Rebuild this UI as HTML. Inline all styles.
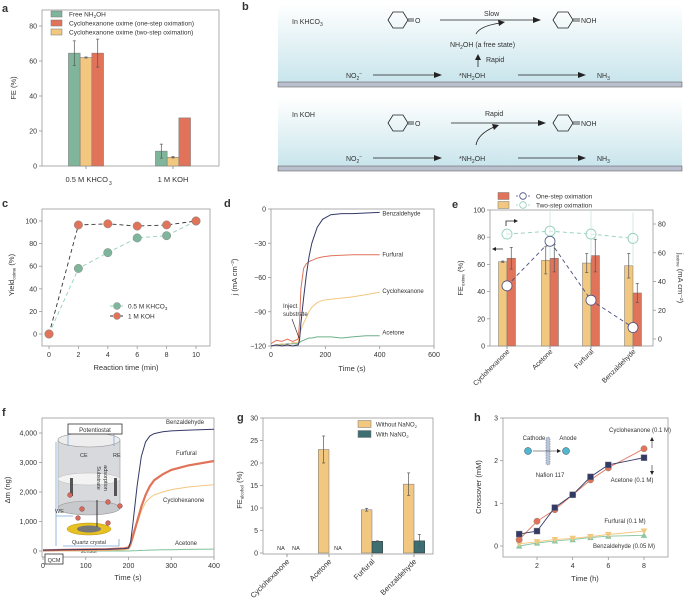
<!DOCTYPE html>
<html><head><meta charset="utf-8"><style>
html,body{margin:0;padding:0;background:#fff}
svg{display:block;font-family:"Liberation Sans",sans-serif}
text{fill:#333}
</style></head><body>
<svg id="s" width="685" height="606" viewBox="0 0 685 606">
<defs>
<linearGradient id="bg" x1="0" y1="0" x2="0" y2="1"><stop offset="0" stop-color="#fff"/><stop offset="1" stop-color="#c9e5ec"/></linearGradient>
</defs>
<g font-weight="bold" font-size="11">
<text x="2" y="12">a</text><text x="242" y="10">b</text><text x="2" y="207">c</text><text x="224" y="207">d</text><text x="452" y="208">e</text><text x="2" y="416">f</text><text x="237" y="421">g</text><text x="474" y="421">h</text>
</g>
<!-- panel b -->
<g font-size="7">
<rect x="278" y="4" width="404" height="78" fill="url(#bg)"/>
<rect x="278" y="82" width="404" height="5" fill="#b9bfcc" stroke="#666" stroke-width="0.6"/>
<rect x="278" y="98" width="404" height="68" fill="url(#bg)"/>
<rect x="278" y="166" width="404" height="5" fill="#b9bfcc" stroke="#666" stroke-width="0.6"/>
<g stroke="#222" stroke-width="0.8" fill="none">
<polygon points="388,20 393,12 403,12 408,20 403,28 393,28"/><line x1="408" y1="19" x2="414" y2="19"/><line x1="408" y1="21" x2="414" y2="21"/>
<polygon points="553,20 558,12 568,12 573,20 568,28 558,28"/><line x1="573" y1="19" x2="580" y2="19"/><line x1="573" y1="21" x2="580" y2="21"/>
<polygon points="388,123 393,115 403,115 408,123 403,131 393,131"/><line x1="408" y1="122" x2="414" y2="122"/><line x1="408" y1="124" x2="414" y2="124"/>
<polygon points="553,123 558,115 568,115 573,123 568,131 558,131"/><line x1="573" y1="122" x2="580" y2="122"/><line x1="573" y1="124" x2="580" y2="124"/>
<line x1="440" y1="20" x2="535" y2="20"/><line x1="451" y1="123" x2="540" y2="123"/>
<line x1="373" y1="75" x2="436" y2="75"/><line x1="518" y1="75" x2="580" y2="75"/>
<line x1="373" y1="158" x2="436" y2="158"/><line x1="518" y1="158" x2="580" y2="158"/>
<path d="M476,34 Q480,26 500,23"/><path d="M476,145 Q478,134 494,127"/><line x1="478" y1="67" x2="478" y2="58"/>
</g>
<g fill="#222">
<polygon points="541,20 533,17 533,23"/><polygon points="546,123 538,120 538,126"/>
<polygon points="442,75 434,72 434,78"/><polygon points="586,75 578,72 578,78"/>
<polygon points="442,158 434,155 434,161"/><polygon points="586,158 578,155 578,161"/>
<polygon points="505,22 498,20 499,26"/><polygon points="499,125 492,124 494,130"/><polygon points="478,54 475,60 481,60"/>
</g>
<text x="292" y="24">In KHCO<tspan font-size="5" dy="2">3</tspan></text>
<text x="292" y="117">In KOH</text>
<text x="415" y="23">O</text><text x="415" y="126">O</text>
<text x="581" y="23">NOH</text><text x="581" y="126">NOH</text>
<text x="484" y="16">Slow</text><text x="485" y="116">Rapid</text>
<text x="450" y="47">NH<tspan font-size="5" dy="2">2</tspan><tspan dy="-2">OH (a free state)</tspan></text>
<text x="486" y="62">Rapid</text>
<text x="346" y="78">NO<tspan font-size="5" dy="2">2</tspan><tspan font-size="5" dy="-5">−</tspan></text>
<text x="346" y="161">NO<tspan font-size="5" dy="2">2</tspan><tspan font-size="5" dy="-5">−</tspan></text>
<text x="459" y="78">*NH<tspan font-size="5" dy="2">2</tspan><tspan dy="-2">OH</tspan></text>
<text x="459" y="161">*NH<tspan font-size="5" dy="2">2</tspan><tspan dy="-2">OH</tspan></text>
<text x="597" y="78">NH<tspan font-size="5" dy="2">3</tspan></text>
<text x="597" y="161">NH<tspan font-size="5" dy="2">3</tspan></text>
</g>
<g id="root"></g>
</svg>
<script>
// ---------- data ----------
const aGroups = ["0.5 M KHCO3", "1 M KOH"];
const aFreeNH2OH = [64.5, 8.5];
const aFreeErr = [7, 4];
const aOneStep = [64.5, 27.5];
const aOneErr = [8, 0];
const aTwoStep = [62, 5];
const aTwoErr = [0.3, 0.4];
const aTicks = [0, 20, 40, 60, 80];

const cTime = [0, 2, 4, 6, 8, 10];
const cKHCO3 = [0, 58, 72, 85, 87, 100];
const cKOH = [0, 96.5, 97.5, 95.5, 96.5, 100];
const cXTicks = [0, 2, 4, 6, 8, 10];
const cYTicks = [0, 20, 40, 60, 80, 100];

const dTime = [0, 20, 40, 60, 80, 100, 105, 110, 120, 130, 140, 150, 170, 190, 220, 260, 300, 350, 400];
const dBenz = [-120, -119, -120, -119, -120, -119, -115, -100, -78, -58, -42, -30, -16, -9, -5, -4, -4, -3.5, -3];
const dFurf = [-118, -115, -116, -114, -116, -114, -100, -70, -52, -48, -46, -45, -43, -42, -41, -40.5, -40, -40, -40];
const dCyclo = [-120, -119, -118, -119, -117, -117, -112, -106, -100, -95, -90, -86, -82, -80, -79, -78, -77, -75, -73];
const dAcet = [-120, -119, -119, -118, -118, -118, -117, -116, -115, -114, -113, -113, -112, -112, -112, -113, -112, -111, -111];
const dXTicks = [0, 200, 400, 600];
const dYTicks = [0, -30, -60, -90, -120];

const eCats = ["Cyclohexanone", "Acetone", "Furfural", "Benzaldehyde"];
const eTwoFE = [62, 63, 61, 59];
const eTwoFEErr = [0.5, 10, 7, 9];
const eOneFE = [64.5, 64.5, 66.5, 39];
const eOneFEErr = [8, 10, 12, 7];
const eOneJ = [37, 68, 27, 8];
const eTwoJ = [73, 75, 73, 70];
const eTwoJErr = [3, 18, 17, 18];
const eLeftTicks = [0, 20, 40, 60, 80, 100];
const eRightTicks = [0, 20, 40, 60, 80];

const fTime = [0, 50, 100, 150, 190, 200, 205, 210, 220, 230, 240, 250, 260, 280, 300, 340, 400];
const fBenz = [30, 40, 50, 60, 80, 100, 300, 900, 2200, 3200, 3700, 3900, 3980, 4040, 4070, 4100, 4130];
const fFurf = [20, 40, 50, 60, 90, 120, 250, 500, 1000, 1500, 1900, 2200, 2400, 2600, 2750, 2900, 3050];
const fCyclo = [0, 0, 10, 20, 40, 60, 150, 400, 900, 1350, 1650, 1800, 1900, 2000, 2080, 2170, 2250];
const fAcet = [0, 0, 0, 0, 0, 0, 5, 10, 15, 20, 25, 30, 35, 40, 45, 55, 65];
const fYTicks = [0, 1000, 2000, 3000, 4000];
const fYLabels = ["0", "1,000", "2,000", "3,000", "4,000"];
const fXTicks = [0, 100, 200, 300, 400];

const gCats = ["Cyclohexanone", "Acetone", "Furfural", "Benzaldehyde"];
const gWithout = [null, 23, 9.6, 15.3];
const gWithoutErr = [0, 3, 0.3, 2.5];
const gWith = [null, null, 2.6, 2.7];
const gWithErr = [0, 0, 0.1, 1.4];
const gTicks = [0, 5, 10, 15, 20, 25, 30];

const hTime = [1, 2, 3, 4, 5, 6, 8];
const hAcet = [0.28, 0.35, 0.9, 1.2, 1.62, 1.9, 2.07];
const hCyclo = [0.15, 0.58, 0.85, 1.2, 1.55, 1.83, 2.28];
const hFurf = [0.05, 0.1, 0.15, 0.18, 0.22, 0.27, 0.35];
const hBenz = [0.0, 0.07, 0.12, 0.15, 0.2, 0.23, 0.25];
const hXTicks = [2, 4, 6, 8];
const hYTicks = [0, 1, 2, 3];

// ---------- helpers ----------
const NS = "http://www.w3.org/2000/svg";
const root = document.getElementById("root");
function mk(tag, at, parent) {
  const e = document.createElementNS(NS, tag);
  for (const k in at) e.setAttribute(k, at[k]);
  (parent || root).appendChild(e);
  return e;
}
function txt(x, y, s, size, anchor, parent, extra) {
  const t = mk("text", Object.assign({x: x, y: y, "font-size": size || 7, "text-anchor": anchor || "start"}, extra || {}), parent);
  t.textContent = s;
  return t;
}
function lin(d0, d1, r0, r1) { return v => r0 + (v - d0) / (d1 - d0) * (r1 - r0); }
function frame(x0, y0, x1, y1, name) {
  const r = mk("rect", {x: x0, y: y0, width: x1 - x0, height: y1 - y0, fill: "none", stroke: "#999", "stroke-width": 0.8});
  
  
}
function yAxis(ticks, sy, x, labels, name, side) {
  const g = mk("g", {});
  
  
  ticks.forEach((v, i) => {
    const y = sy(v);
    const dir = side === "r" ? 1 : -1;
    mk("line", {x1: x, x2: x + dir * 3, y1: y, y2: y, stroke: "#999", "stroke-width": 0.8}, g);
    txt(x + dir * 5, y + 2.5, labels ? labels[i] : String(v).replace("-", "−"), 7, side === "r" ? "start" : "end", g);
  });
}
function xAxis(ticks, sx, y, name) {
  const g = mk("g", {});
  
  
  ticks.forEach(v => {
    const x = sx(v);
    mk("line", {x1: x, x2: x, y1: y, y2: y + 3, stroke: "#999", "stroke-width": 0.8}, g);
    txt(x, y + 11, String(v), 7, "middle", g);
  });
}
function errBar(x, y0, y1, parent) {
  mk("line", {x1: x, x2: x, y1: y0, y2: y1, stroke: "#555", "stroke-width": 0.7}, parent);
  mk("line", {x1: x - 1.5, x2: x + 1.5, y1: y0, y2: y0, stroke: "#555", "stroke-width": 0.7}, parent);
  mk("line", {x1: x - 1.5, x2: x + 1.5, y1: y1, y2: y1, stroke: "#555", "stroke-width": 0.7}, parent);
}
function path(xs, ys, sx, sy) { return xs.map((v, i) => (i ? "L" : "M") + sx(v).toFixed(1) + "," + sy(ys[i]).toFixed(1)).join(""); }
const GREEN = "#7fb59b", RED = "#e0735a", YEL = "#f2c77f", NAVY = "#343a66", TEAL = "#3d6e72", LTEAL = "#93cfbd";

// ---------- panel a ----------
(function () {
  const x0 = 42, x1 = 219, y0 = 10, y1 = 166;
  const sy = lin(0, 80, 166, 26);
  const gc = [86, 173];
  const bw = 11.7;
  frame(x0, y0, x1, y1, "panel-a-frame");
  yAxis(aTicks, sy, x0, null, "panel-a-y-axis");
  const t = txt(0, 0, "FE (%)", 7.5, "middle"); t.setAttribute("transform", "translate(16,88) rotate(-90)");
  
  const series = [[aFreeNH2OH, aFreeErr, GREEN, -1.5], [aTwoStep, aTwoErr, YEL, -0.5], [aOneStep, aOneErr, RED, 0.5]];
  aGroups.forEach((gname, gi) => {
    series.forEach((s, si) => {
      const v = s[0][gi], x = gc[gi] + s[3] * bw;
      const b = mk("rect", {x: x, y: sy(v), width: bw, height: sy(0) - sy(v), fill: s[2], stroke: "#777", "stroke-width": 0.5});
      
      
      if (s[1][gi] > 0) errBar(x + bw / 2, sy(v + s[1][gi]), sy(v - s[1][gi]));
    });
    mk("line", {x1: gc[gi], x2: gc[gi], y1: y1, y2: y1 + 3, stroke: "#999"});
  });
  txt(86, 182, "0.5 M KHCO", 7.5, "end", null, {dx: 22});
  txt(109, 185, "3", 5, "start");
  txt(173, 182, "1 M KOH", 7.5, "middle");
  const leg = [["Free NH", GREEN, "OH"], ["Cyclohexanone oxime (one-step oximation)", RED], ["Cyclohexanone oxime (two-step oximation)", YEL]];
  leg.forEach((l, i) => {
    const y = 14 + i * 9;
    const r = mk("rect", {x: 51, y: y - 3, width: 11, height: 6, fill: l[1], stroke: "#777", "stroke-width": 0.5});
    
    const t2 = txt(69, y + 2.5, l[0], 6.5);
    
    if (l[2]) { const s = mk("tspan", {"font-size": 4.5, dy: 1.5}, t2); s.textContent = "2"; const s2 = mk("tspan", {dy: -1.5}, t2); s2.textContent = "OH"; }
  });
})();

// ---------- panel c ----------
(function () {
  const x0 = 42, x1 = 210, y0 = 209, y1 = 346;
  const sx = lin(0, 10, 49, 196), sy = lin(0, 100, 334, 221);
  frame(x0, y0, x1, y1, "panel-c-frame");
  yAxis(cYTicks, sy, x0, null, "panel-c-y-axis");
  xAxis(cXTicks, sx, y1, "panel-c-x-axis");
  const xt = txt(126, 370, "Reaction time (min)", 7.5, "middle"); 
  const yt = txt(0, 0, "Yield", 7.5, "middle"); yt.setAttribute("transform", "translate(14,275) rotate(-90)");
  
  const sb = mk("tspan", {"font-size": 4.5, dy: 1.5}, yt); sb.textContent = "oxime"; const sb2 = mk("tspan", {dy: -1.5}, yt); sb2.textContent = " (%)";
  [[cKHCO3, LTEAL, GREEN, "panel-c-khco3"], [cKOH, "#333", RED, "panel-c-koh"]].forEach(s => {
    const p = mk("path", {d: path(cTime, s[0], sx, sy), fill: "none", stroke: s[1], "stroke-width": 0.9, "stroke-dasharray": "4,3"});
    
    cTime.forEach((t, i) => {
      const c = mk("circle", {cx: sx(t), cy: sy(s[0][i]), r: 4.2, fill: s[2], stroke: "#888", "stroke-width": 0.5});
      
    });
  });
  [["0.5 M KHCO", GREEN, LTEAL, 306], ["1 M KOH", RED, "#333", 316]].forEach((l, i) => {
    mk("line", {x1: 110, x2: 124, y1: l[3], y2: l[3], stroke: l[2], "stroke-dasharray": "3,2", "stroke-width": 0.9});
    const c = mk("circle", {cx: 117, cy: l[3], r: 3.5, fill: l[1], stroke: "#888", "stroke-width": 0.5});
    
    const t = txt(128, l[3] + 2.5, l[0], 6.5);
    
    if (i === 0) { const s = mk("tspan", {"font-size": 4.5, dy: 1.5}, t); s.textContent = "3"; }
  });
})();

// ---------- panel d ----------
(function () {
  const x0 = 271, x1 = 434, y0 = 209, y1 = 346;
  const sx = lin(0, 600, 271, 434), sy = lin(0, -120, 209, 346);
  frame(x0, y0, x1, y1, "panel-d-frame");
  yAxis(dYTicks, sy, x0, null, "panel-d-y-axis");
  xAxis(dXTicks, sx, y1, "panel-d-x-axis");
  const xt = txt(352, 371, "Time (s)", 7.5, "middle"); 
  const yt = txt(0, 0, "j (mA cm", 7.5, "middle", null, {}); yt.setAttribute("transform", "translate(237,277) rotate(-90)");
  
  const sp = mk("tspan", {"font-size": 4.5, dy: -3}, yt); sp.textContent = "−2"; const sp2 = mk("tspan", {dy: 3}, yt); sp2.textContent = ")";
  [[dAcet, "#6db08a", "Acetone", -108], [dCyclo, YEL, "Cyclohexanone", -72], [dFurf, RED, "Furfural", -40], [dBenz, NAVY, "Benzaldehyde", -4]].forEach(s => {
    const p = mk("path", {d: path(dTime, s[0], sx, sy), fill: "none", stroke: s[1], "stroke-width": 1});
    
    const t = txt(sx(410), sy(s[3]) + 2, s[2], 6);
    
  });
  txt(283, 308, "Inject", 6); txt(283, 316, "substrate", 6);
  mk("line", {x1: 292, x2: 299, y1: 319, y2: 338, stroke: "#222", "stroke-width": 0.6});
})();

// ---------- panel e ----------
(function () {
  const x0 = 490, x1 = 653, y0 = 210, y1 = 346;
  const syL = lin(0, 100, 346, 210), syR = lin(0, 80, 339, 224);
  const cx = [507, 550, 591, 633], bw = 8.5;
  frame(x0, y0, x1, y1, "panel-e-frame");
  yAxis(eLeftTicks, syL, x0, null, "panel-e-left-axis");
  yAxis(eRightTicks, syR, x1, null, "panel-e-right-axis", "r");
  const yt = txt(0, 0, "FE", 7.5, "middle"); yt.setAttribute("transform", "translate(463,278) rotate(-90)");
  
  const s1 = mk("tspan", {"font-size": 4.5, dy: 1.5}, yt); s1.textContent = "oxime"; const s2 = mk("tspan", {dy: -1.5}, yt); s2.textContent = " (%)";
  const yr = txt(0, 0, "j", 7.5, "middle"); yr.setAttribute("transform", "translate(678,278) rotate(90)");
  
  const r1 = mk("tspan", {"font-size": 4.5, dy: 1.5}, yr); r1.textContent = "oxime"; const r2 = mk("tspan", {dy: -1.5}, yr); r2.textContent = " (mA cm⁻²)";
  eCats.forEach((c, i) => {
    const b1 = mk("rect", {x: cx[i] - bw, y: syL(eTwoFE[i]), width: bw, height: syL(0) - syL(eTwoFE[i]), fill: YEL, stroke: "#777", "stroke-width": 0.5});
    
    const b2 = mk("rect", {x: cx[i], y: syL(eOneFE[i]), width: bw, height: syL(0) - syL(eOneFE[i]), fill: RED, stroke: "#777", "stroke-width": 0.5});
    
    errBar(cx[i] - bw / 2, syL(eTwoFE[i] + eTwoFEErr[i]), syL(eTwoFE[i] - eTwoFEErr[i]));
    errBar(cx[i] + bw / 2, syL(eOneFE[i] + eOneFEErr[i]), syL(eOneFE[i] - eOneFEErr[i]));
    mk("line", {x1: cx[i], x2: cx[i], y1: y1, y2: y1 + 3, stroke: "#999"});
    const t = txt(0, 0, c, 7, "end"); t.setAttribute("transform", "translate(" + (cx[i] + 3) + ",352) rotate(-45)");
    
  });
  const p1 = mk("path", {d: path([0, 1, 2, 3], eTwoJ, i => cx[i], syR), fill: "none", stroke: LTEAL, "stroke-dasharray": "4,3", "stroke-width": 0.9});
  
  eCats.forEach((c, i) => {
    mk("line", {x1: cx[i], x2: cx[i], y1: syR(eTwoJ[i] + eTwoJErr[i]), y2: syR(eTwoJ[i] - eTwoJErr[i]), stroke: "#bfe3d8", "stroke-width": 0.7});
    const m = mk("circle", {cx: cx[i], cy: syR(eTwoJ[i]), r: 5, fill: "rgba(255,255,255,0.5)", stroke: LTEAL, "stroke-width": 0.9});
    
  });
  const p2 = mk("path", {d: path([0, 1, 2, 3], eOneJ, i => cx[i], syR), fill: "none", stroke: "#4a5080", "stroke-dasharray": "4,3", "stroke-width": 0.9});
  
  eCats.forEach((c, i) => {
    const m = mk("circle", {cx: cx[i], cy: syR(eOneJ[i]), r: 5, fill: "#fff", stroke: "#4a5080", "stroke-width": 0.8});
    
  });
  mk("path", {d: "M503,249 L495,249 M506,226 L506,221 L515,221", stroke: "#222", fill: "none", "stroke-width": 0.8});
  mk("polygon", {points: "492,249 496,247 496,251", fill: "#222"});
  mk("polygon", {points: "518,221 514,219 514,223", fill: "#222"});
  [["One-step oximation", RED, "#4a5080", 196], ["Two-step oximation", YEL, LTEAL, 205]].forEach(l => {
    const r = mk("rect", {x: 498, y: l[3] - 3.5, width: 11, height: 7, fill: l[1], stroke: "#777", "stroke-width": 0.5});
    
    mk("line", {x1: 516, x2: 530, y1: l[3], y2: l[3], stroke: l[2], "stroke-dasharray": "2,2", "stroke-width": 0.8});
    mk("circle", {cx: 523, cy: l[3], r: 3.3, fill: "#fff", stroke: l[2], "stroke-width": 0.8});
    const t = txt(536, l[3] + 2.5, l[0], 6.5); 
  });
})();

// ---------- panel f ----------
(function () {
  const x0 = 42, x1 = 214, y0 = 418, y1 = 557;
  const sx = lin(0, 400, 43, 214), sy = lin(0, 4000, 551, 433);
  frame(x0, y0, x1, y1, "panel-f-frame");
  yAxis(fYTicks, sy, x0, fYLabels, "panel-f-y-axis");
  xAxis(fXTicks, sx, y1, "panel-f-x-axis");
  const xt = txt(128, 580, "Time (s)", 7.5, "middle"); 
  const yt = txt(0, 0, "Δm (ng)", 7.5, "middle"); yt.setAttribute("transform", "translate(10,490) rotate(-90)");
  
  const g = mk("g", {});  
  mk("rect", {x: 58, y: 440, width: 62, height: 68, fill: "#d8d9dc", stroke: "#999", "stroke-width": 0.6}, g);
  mk("ellipse", {cx: 89, cy: 440, rx: 31, ry: 7, fill: "#eee", stroke: "#999", "stroke-width": 0.6}, g);
  mk("ellipse", {cx: 89, cy: 479, rx: 31, ry: 6, fill: "#f3f3f3", stroke: "#bbb", "stroke-width": 0.5}, g);
  mk("ellipse", {cx: 89, cy: 508, rx: 31, ry: 7, fill: "#c8c9cc", stroke: "#999", "stroke-width": 0.6}, g);
  mk("ellipse", {cx: 89, cy: 529, rx: 22, ry: 6, fill: "#e7c021", stroke: "#b48f10", "stroke-width": 0.5}, g);
  mk("ellipse", {cx: 89, cy: 529, rx: 12, ry: 3.5, fill: "#777"}, g);
  mk("rect", {x: 70, y: 478, width: 3, height: 18, fill: "#555"}, g);
  mk("rect", {x: 114, y: 478, width: 3, height: 18, fill: "#555"}, g);
  mk("line", {x1: 97, x2: 97, y1: 500, y2: 527, stroke: "#333"}, g);
  [[70, 495], [82, 509], [78, 518], [108, 502], [120, 506], [108, 523]].forEach(p => mk("circle", {cx: p[0], cy: p[1], r: 2.4, fill: "#d46a5c", stroke: "#733", "stroke-width": 0.4}, g));
  mk("path", {d: "M56,546 L56,516 L73,516 M56,442 L56,516 M68,428 L68,446 M114,428 L114,446 M119,539 L119,546 L63,546", fill: "none", stroke: "#7aa6d6", "stroke-width": 0.8}, g);
  mk("rect", {x: 68, y: 424, width: 54, height: 10, fill: "#fff", stroke: "#333", "stroke-width": 0.8}, g);
  txt(95, 432, "Potentiostat", 6, "middle", g);
  mk("rect", {x: 45, y: 554, width: 18, height: 10, fill: "#fff", stroke: "#333", "stroke-width": 0.8}, g);
  txt(54, 562, "QCM", 5.5, "middle", g);
  txt(80, 457, "CE", 5.5, "start", g); txt(113, 457, "RE", 5.5, "start", g); txt(55, 513, "WE", 5.5, "start", g);
  txt(89, 544, "Quartz crystal", 5.5, "middle", g); txt(89, 553, "sensor", 5.5, "middle", g);
  const sa = txt(0, 0, "Substrate", 5.5, "middle", g); sa.setAttribute("transform", "translate(97,478) rotate(90)");
  const sb = txt(0, 0, "adsorption", 5.5, "middle", g); sb.setAttribute("transform", "translate(104,478) rotate(90)");
  [[fAcet, "#7fc29a", "Acetone", 175, 545], [fCyclo, YEL, "Cyclohexanone", 163, 502], [fFurf, RED, "Furfural", 176, 455], [fBenz, NAVY, "Benzaldehyde", 166, 424]].forEach(s => {
    const p = mk("path", {d: path(fTime, s[0], sx, sy), fill: "none", stroke: s[1], "stroke-width": s[2] === "Furfural" ? 2.2 : 1});
    
    const t = txt(s[3], s[4], s[2], 6);
    
  });
})();

// ---------- panel g ----------
(function () {
  const x0 = 263, x1 = 433, y0 = 418, y1 = 554;
  const sy = lin(0, 30, 553, 418);
  const cx = [287, 329, 372, 414], bw = 10.7;
  frame(x0, y0, x1, y1, "panel-g-frame");
  yAxis(gTicks, sy, x0, null, "panel-g-y-axis");
  const yt = txt(0, 0, "FE", 7.5, "middle"); yt.setAttribute("transform", "translate(242,490) rotate(-90)");
  
  const s1 = mk("tspan", {"font-size": 4.5, dy: 1.5}, yt); s1.textContent = "alcohol"; const s2 = mk("tspan", {dy: -1.5}, yt); s2.textContent = " (%)";
  gCats.forEach((c, i) => {
    if (gWithout[i] !== null) {
      const b = mk("rect", {x: cx[i] - bw, y: sy(gWithout[i]), width: bw, height: sy(0) - sy(gWithout[i]), fill: YEL, stroke: "#777", "stroke-width": 0.5});
      
      errBar(cx[i] - bw / 2, sy(gWithout[i] + gWithoutErr[i]), sy(gWithout[i] - gWithoutErr[i]));
    } else txt(cx[i] - 6, 550, "NA", 5.5, "middle");
    if (gWith[i] !== null) {
      const b = mk("rect", {x: cx[i], y: sy(gWith[i]), width: bw, height: sy(0) - sy(gWith[i]), fill: TEAL, stroke: "#333", "stroke-width": 0.5});
      
      errBar(cx[i] + bw / 2, sy(gWith[i] + gWithErr[i]), sy(gWith[i] - gWithErr[i]));
    } else txt(cx[i] + 9, 550, "NA", 5.5, "middle");
    mk("line", {x1: cx[i], x2: cx[i], y1: y1, y2: y1 + 3, stroke: "#999"});
    const t = txt(0, 0, c, 7.5, "end"); t.setAttribute("transform", "translate(" + (cx[i] + 3) + ",562) rotate(-45)");
    
  });
  [["Without NaNO", YEL, 424], ["With NaNO", TEAL, 434]].forEach(l => {
    const r = mk("rect", {x: 358, y: l[2] - 3.5, width: 13, height: 7, fill: l[1], stroke: "#777", "stroke-width": 0.5});
    
    const t = txt(376, l[2] + 2.5, l[0], 6);
    
    const s = mk("tspan", {"font-size": 4, dy: 1.5}, t); s.textContent = "2";
  });
})();

// ---------- panel h ----------
(function () {
  const x0 = 503, x1 = 668, y0 = 418, y1 = 557;
  const sx = lin(2, 8, 537, 644), sy = lin(0, 3, 546, 418);
  frame(x0, y0, x1, y1, "panel-h-frame");
  yAxis(hYTicks, sy, x0, null, "panel-h-y-axis");
  xAxis(hXTicks, sx, y1, "panel-h-x-axis");
  const xt = txt(585, 581, "Time (h)", 7.5, "middle"); 
  const yt = txt(0, 0, "Crossover (mM)", 7.5, "middle"); yt.setAttribute("transform", "translate(481,487) rotate(-90)");
  
  const series = [[hBenz, "#8cc7a3", "tri", "benzaldehyde"], [hFurf, YEL, "dtri", "furfural"], [hCyclo, RED, "circ", "cyclohexanone"], [hAcet, NAVY, "sq", "acetone"]];
  series.forEach(s => {
    const p = mk("path", {d: path(hTime, s[0], sx, sy), fill: "none", stroke: s[1], "stroke-width": 0.9});
    
    hTime.forEach((t, i) => {
      const x = sx(t), y = sy(s[0][i]);
      let m;
      if (s[2] === "sq") m = mk("rect", {x: x - 3, y: y - 3, width: 6, height: 6, fill: s[1], stroke: "#888", "stroke-width": 0.4});
      else if (s[2] === "circ") m = mk("circle", {cx: x, cy: y, r: 3.2, fill: s[1], stroke: "#888", "stroke-width": 0.4});
      else if (s[2] === "tri") m = mk("polygon", {points: [x, y - 3.2, x - 3.2, y + 2.6, x + 3.2, y + 2.6].join(","), fill: s[1]});
      else m = mk("polygon", {points: [x, y + 3.2, x - 3.4, y - 2.6, x + 3.4, y - 2.6].join(","), fill: s[1]});
      
    });
  });
  txt(640, 432, "Cyclohexanone (0.1 M)", 6, "middle");
  txt(632, 482, "Acetone (0.1 M)", 6, "middle");
  txt(625, 523, "Furfural (0.1 M)", 6, "middle");
  txt(624, 548, "Benzaldehyde (0.05 M)", 6, "middle");
  mk("line", {x1: 652, x2: 652, y1: 440, y2: 448, stroke: "#222", "stroke-width": 0.6}); mk("polygon", {points: "652,437 650,441 654,441", fill: "#222"});
  mk("line", {x1: 652, x2: 652, y1: 465, y2: 472, stroke: "#222", "stroke-width": 0.6}); mk("polygon", {points: "652,475 650,471 654,471", fill: "#222"});
  const g = mk("g", {});  
  txt(534, 440, "Cathode", 6, "middle", g); txt(568, 440, "Anode", 6, "middle", g);
  mk("rect", {x: 546, y: 437, width: 4, height: 28, rx: 2, fill: "#b8c6dc", stroke: "#667", "stroke-width": 0.5, "stroke-dasharray": "1.5,1"}, g);
  mk("circle", {cx: 528, cy: 451, r: 3.5, fill: "#4fb8cf", stroke: "#345", "stroke-width": 0.5}, g);
  mk("circle", {cx: 566, cy: 451, r: 3.5, fill: "#4fb8cf", stroke: "#345", "stroke-width": 0.5}, g);
  mk("line", {x1: 533, x2: 558, y1: 451, y2: 451, stroke: "#222", "stroke-width": 0.6}, g);
  mk("polygon", {points: "561,451 557,449 557,453", fill: "#222"}, g);
  txt(550, 477, "Nafion 117", 6, "middle", g);
})();
</script>
</body></html>
